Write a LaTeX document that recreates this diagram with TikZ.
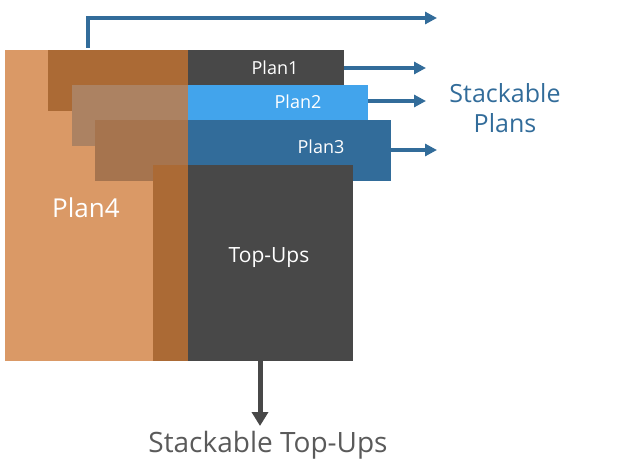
\documentclass[tikz,border=0pt]{standalone}
\usepackage{fontspec}
\setmainfont{Open Sans}
\usetikzlibrary{arrows.meta}
\definecolor{orng}{HTML}{DA9966}
\definecolor{dbrown}{HTML}{AB6A35}
\definecolor{lbrown}{HTML}{AC8262}
\definecolor{mbrown}{HTML}{A6744E}
\definecolor{dgray}{HTML}{484848}
\definecolor{lblue}{HTML}{42A4EC}
\definecolor{dblue}{HTML}{326C9A}
\begin{document}
\begin{tikzpicture}[x=1pt,y=-1pt,
  box/.style={draw=none,inner sep=0},
  lbl/.style={text=white,font=\fontsize{18}{20}\selectfont},
  barrow/.style={draw=dblue,line width=3.5pt,-{Triangle[length=12pt,width=12pt]}},
  garrow/.style={draw=dgray,line width=5pt,-{Triangle[length=14pt,width=16pt]}}]
\useasboundingbox (0,0) rectangle (627,468);
\fill[orng] (5,50) rectangle (188,361);
\fill[dbrown] (48,50) rectangle (188,111);
\fill[lbrown] (72,85) rectangle (188,146);
\fill[mbrown] (95,120) rectangle (188,181);
\fill[dbrown] (153,165) rectangle (188,361);
\fill[dgray] (188,50) rectangle (344,85);
\fill[lblue] (188,85) rectangle (368,120);
\fill[dblue] (188,120) rectangle (391,181);
\fill[dgray] (188,165) rectangle (353,361);
\node[lbl] (p1) at (275,68) {Plan1};
\node[lbl] (p2) at (298,102) {Plan2};
\node[lbl] (p3) at (321,147) {Plan3};
\node[lbl,font=\fontsize{26}{28}\selectfont] (p4) at (86,208) {Plan4};
\node[lbl,font=\fontsize{21}{24}\selectfont] (tu) at (269,258) {Top-Ups};
\coordinate (s0) at (88,48);
\coordinate (e0) at (437,18);
\coordinate (s1) at (344,68); \coordinate (e1) at (426,68);
\coordinate (s2) at (368,101); \coordinate (e2) at (426,101);
\coordinate (s3) at (391,150); \coordinate (e3) at (437,150);
\draw[barrow] (s0) |- (e0);
\draw[barrow] (s1) -- (e1);
\draw[barrow] (s2) -- (e2);
\draw[barrow] (s3) -- (e3);
\node[text=dblue,font=\fontsize{25}{30}\selectfont,align=center] (sp) at (505,108) {Stackable\\Plans};
\coordinate (d0) at (260,361);
\node[text=dgray!90,font=\fontsize{28}{30}\selectfont] (st) at (268,445) {Stackable Top-Ups};
\draw[garrow] (d0) -- (260,426);
\end{tikzpicture}
\end{document}
